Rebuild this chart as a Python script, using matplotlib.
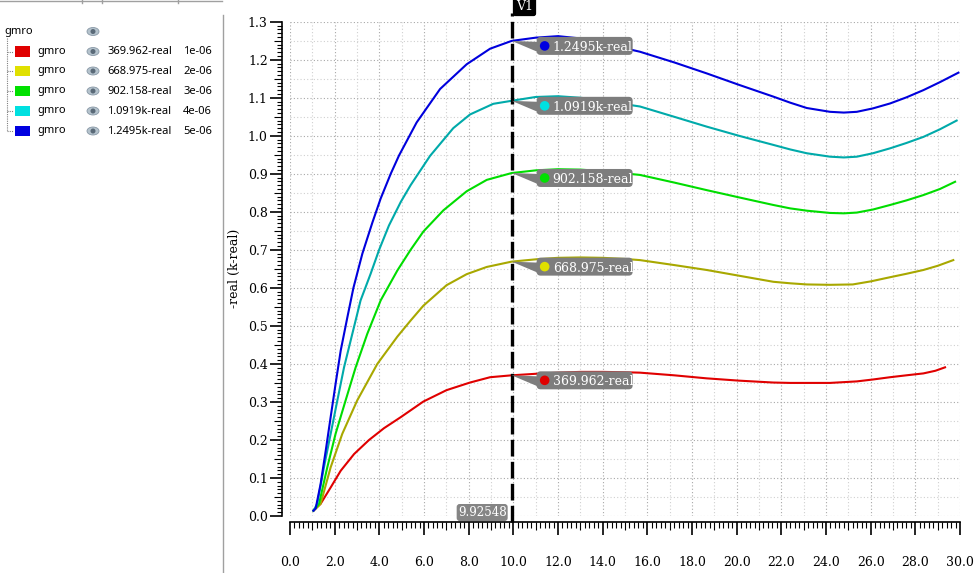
import matplotlib
matplotlib.use('Agg')
import matplotlib.pyplot as plt
import matplotlib.patches as mpatches
import matplotlib.transforms as mtransforms
import numpy as np
from matplotlib.ticker import MultipleLocator, FormatStrFormatter

W, H = 977, 573

# ---- data ----
names = ['369.962-real', '668.975-real', '902.158-real', '1.0919k-real', '1.2495k-real']
params = ['1e-06', '2e-06', '3e-06', '4e-06', '5e-06']
cursor_x = 9.92548
cursor_vals = [0.369962, 0.668975, 0.902158, 1.0919, 1.2495]

x_red = [1.05, 1.37, 1.82, 2.27, 2.87, 3.54, 4.21, 4.96, 5.97, 7.01, 8.06, 8.96, 9.925, 11, 12, 13, 14, 15,
         15.67, 17.2, 18.66, 20.1, 21.64, 22.4, 23.14, 24.18, 25.38, 26.1, 26.87, 27.6, 28.36, 28.9, 29.33]
y_red = [0.014, 0.032, 0.075, 0.119, 0.163, 0.200, 0.231, 0.260, 0.301, 0.331, 0.351, 0.365, 0.370, 0.374, 0.377,
         0.379, 0.379, 0.378, 0.377, 0.370, 0.362, 0.356, 0.351, 0.350, 0.350, 0.350, 0.354, 0.359, 0.365, 0.370,
         0.375, 0.382, 0.391]

x_yel = [1.05, 1.37, 1.82, 2.34, 3.01, 3.91, 4.81, 5.4, 5.97, 7.01, 7.91, 8.81, 9.925, 11, 12, 13, 14, 15,
         15.67, 17.2, 18.66, 20.1, 21.64, 22.4, 23.14, 24.18, 25.2, 26.0, 26.87, 27.6, 28.36, 29.0, 29.7]
y_yel = [0.014, 0.032, 0.128, 0.216, 0.304, 0.400, 0.472, 0.514, 0.553, 0.607, 0.636, 0.655, 0.669, 0.675,
         0.679, 0.680, 0.679, 0.676, 0.673, 0.660, 0.647, 0.632, 0.616, 0.612, 0.609, 0.608, 0.609, 0.617, 0.628,
         0.637, 0.647, 0.658, 0.673]

x_grn = [1.05, 1.3, 1.67, 2.04, 2.49, 2.94, 3.46, 4.06, 4.81, 5.4, 5.97, 6.87, 7.91, 8.81, 9.925, 11, 12, 13,
         14, 15, 15.67, 17.2, 18.66, 20.1, 21.64, 22.4, 23.14, 24.18, 24.8, 25.38, 26.1, 26.87, 27.6, 28.36,
         29.1, 29.78]
y_grn = [0.014, 0.032, 0.128, 0.216, 0.304, 0.391, 0.479, 0.567, 0.646, 0.700, 0.748, 0.804, 0.854, 0.884,
         0.902, 0.909, 0.912, 0.911, 0.907, 0.901, 0.897, 0.877, 0.857, 0.838, 0.818, 0.809, 0.803, 0.797, 0.796,
         0.798, 0.806, 0.818, 0.830, 0.844, 0.860, 0.879]

x_cyn = [1.05, 1.22, 1.52, 1.82, 2.12, 2.42, 2.79, 3.16, 3.61, 3.99, 4.43, 4.96, 5.4, 6.27, 7.31, 8.06, 9.1,
         9.925, 11, 12, 13, 14, 15, 15.67, 17.2, 18.66, 20.1, 21.64, 22.4, 23.14, 24.18, 24.8, 25.38, 26.1,
         26.87, 27.6, 28.36, 29.1, 29.85]
y_cyn = [0.014, 0.032, 0.128, 0.216, 0.304, 0.391, 0.479, 0.567, 0.637, 0.700, 0.764, 0.826, 0.870, 0.947,
         1.020, 1.056, 1.084, 1.092, 1.102, 1.104, 1.100, 1.093, 1.083, 1.077, 1.050, 1.024, 1.000, 0.976, 0.964,
         0.954, 0.945, 0.943, 0.945, 0.954, 0.967, 0.981, 0.997, 1.017, 1.040]

x_blu = [1.05, 1.15, 1.37, 1.60, 1.82, 2.04, 2.27, 2.57, 2.84, 3.24, 3.69, 4.06, 4.51, 4.88, 5.67, 6.72, 7.91,
         8.96, 9.925, 11, 12, 13, 14, 15, 15.67, 17.2, 18.66, 20.1, 21.64, 22.4, 23.14, 24.18, 24.8, 25.38,
         26.1, 26.87, 27.6, 28.36, 29.1, 29.93]
y_blu = [0.014, 0.020, 0.084, 0.172, 0.260, 0.347, 0.435, 0.523, 0.600, 0.690, 0.772, 0.835, 0.900, 0.948,
         1.035, 1.123, 1.188, 1.229, 1.2495, 1.258, 1.262, 1.256, 1.245, 1.230, 1.221, 1.193, 1.164, 1.134, 1.103,
         1.087, 1.073, 1.063, 1.061, 1.063, 1.072, 1.085, 1.101, 1.120, 1.141, 1.166]

series_x = [x_red, x_yel, x_grn, x_cyn, x_blu]
series_y = [y_red, y_yel, y_grn, y_cyn, y_blu]
line_colors = ['#e00000', '#a8a800', '#00dd00', '#00aaaa', '#0000dd']
key_colors = ['#e00000', '#e0e000', '#00e000', '#00e0e0', '#0000e0']

serif = 'DejaVu Serif'
sans = 'Noto Sans'

fig = plt.figure(figsize=(W / 100, H / 100), dpi=100)
fig.patch.set_facecolor('white')


def fx(px):
    return px / W


def fy(py):
    return 1 - py / H


# ---- left panel (legend tree) ----
fig.add_artist(plt.Line2D([0, fx(222)], [fy(0.5), fy(0.5)], color='#a0a0a0', lw=1))
for vx in [82, 102, 178]:
    fig.add_artist(plt.Line2D([fx(vx), fx(vx)], [fy(0), fy(3)], color='#a0a0a0', lw=1))
fig.add_artist(plt.Line2D([fx(222.5), fx(222.5)], [fy(15), fy(573)], color='#a0a0a0', lw=1))


def eye(cx, cy):
    fig.add_artist(mpatches.Ellipse((fx(cx), fy(cy)), 12 / W, 8 / H, transform=fig.transFigure,
                                    fc='#b4c2cc', ec='#8898a6', lw=0.6))
    fig.add_artist(mpatches.Ellipse((fx(cx), fy(cy)), 5 / W, 5 / H, transform=fig.transFigure,
                                    fc='#5a6a78', ec='none'))


fig.text(fx(4), fy(31.5), 'gmro', family=sans, fontsize=8, va='center', ha='left')
eye(93, 31.5)
row_y = [51.5, 71, 91, 111, 131]
fig.add_artist(plt.Line2D([fx(6.5), fx(6.5)], [fy(38), fy(row_y[-1])], color='#808080', lw=0.8, ls=(0, (1, 1))))
for i in range(5):
    ry = row_y[i]
    fig.add_artist(plt.Line2D([fx(6.5), fx(13)], [fy(ry), fy(ry)], color='#808080', lw=0.8, ls=(0, (1, 1))))
    fig.add_artist(mpatches.Rectangle((fx(15), fy(ry + 5)), 15 / W, 10 / H, transform=fig.transFigure,
                                      fc=key_colors[i], ec='none'))
    fig.text(fx(37), fy(ry), 'gmro', family=sans, fontsize=8, va='center', ha='left')
    eye(93, ry)
    fig.text(fx(107), fy(ry), names[i], family=sans, fontsize=8, va='center', ha='left')
    fig.text(fx(183), fy(ry), params[i], family=sans, fontsize=8, va='center', ha='left')

# ---- plot area ----
y0_px, y1_px = 516, 21.7
ax = fig.add_axes([fx(290), fy(y0_px), (960 - 290) / W, (y0_px - y1_px) / H])
ax.set_xlim(0, 30)
ax.set_ylim(0, 1.3)
ax.set_facecolor('none')

for s in ['top', 'right']:
    ax.spines[s].set_visible(False)
ax.spines['left'].set_position(('outward', 6))
ax.spines['bottom'].set_position(('outward', 4.5))
for s in ['left', 'bottom']:
    ax.spines[s].set_linewidth(1.2)

# grid: light at 1 / 0.05, darker at 2 / 0.1
for gx in np.arange(1, 30, 2):
    ax.axvline(gx, color='#d0d0d0', lw=0.8, ls=(0, (1, 2)), zorder=0)
for gx in np.arange(0, 30.1, 2):
    ax.axvline(gx, color='#a8a8a8', lw=0.8, ls=(0, (1, 2)), zorder=0)
for gy in np.arange(0.05, 1.3, 0.1):
    ax.axhline(gy, color='#d0d0d0', lw=0.8, ls=(0, (1, 2)), zorder=0)
for gy in np.arange(0, 1.31, 0.1):
    ax.axhline(gy, color='#a8a8a8', lw=0.8, ls=(0, (1, 2)), zorder=0)

ax.xaxis.set_major_locator(MultipleLocator(2))
ax.xaxis.set_minor_locator(MultipleLocator(0.2))
ax.yaxis.set_major_locator(MultipleLocator(0.1))
ax.yaxis.set_minor_locator(MultipleLocator(0.01))
ax.xaxis.set_major_formatter(FormatStrFormatter('%.1f'))
ax.yaxis.set_major_formatter(FormatStrFormatter('%.1f'))
ax.tick_params(axis='x', which='major', length=9, width=1.2, pad=15, labelsize=9)
ax.tick_params(axis='x', which='minor', length=4, width=0.8)
ax.tick_params(axis='y', which='major', length=9, width=1.2, pad=1, labelsize=9)
ax.tick_params(axis='y', which='minor', length=3.5, width=0.8)
for lab in ax.get_xticklabels() + ax.get_yticklabels():
    lab.set_family(serif)

# medium ticks at odd x and at every 0.05 in y
xlocs = ax.xaxis.get_minorticklocs()
for t, loc in zip(ax.xaxis.get_minor_ticks(len(xlocs)), xlocs):
    if abs(loc - round(loc)) < 1e-6:
        t.tick1line.set_markersize(6)
ylocs = ax.yaxis.get_minorticklocs()
for t, loc in zip(ax.yaxis.get_minor_ticks(len(ylocs)), ylocs):
    if abs(loc * 20 - round(loc * 20)) < 1e-6:
        t.tick1line.set_markersize(6)

ax.set_ylabel('-real (k-real)', family=serif, fontsize=9, labelpad=5)

for xs, ys, c in zip(series_x, series_y, line_colors):
    ax.plot(xs, ys, color=c, lw=1.5, zorder=3)

# cursor
ax.axvline(cursor_x, ymin=-0.012, ymax=(y0_px - 13) / (y0_px - y1_px), color='black', lw=2.4,
           ls=(0, (5, 1.6)), clip_on=False, zorder=5)
fig.text(fx(524.5), fy(6.5), 'V1', family=serif, fontsize=9, color='white', ha='center', va='center',
         bbox=dict(boxstyle='round,pad=0.25,rounding_size=0.2', fc='black', ec='none'))


def px_trans(xd, yd):
    return mtransforms.Affine2D() + mtransforms.ScaledTranslation(xd, yd, ax.transData)


tb = px_trans(cursor_x, 0)
ax.add_patch(mpatches.FancyBboxPatch((-55, -5), 51, 17, boxstyle='round,pad=0,rounding_size=3',
                                     transform=tb, fc='#858585', ec='none', clip_on=False, zorder=6))
ax.text(-29.5, 3.5, '9.92548', transform=tb, family=serif, fontsize=8.6, color='white',
        ha='center', va='center', clip_on=False, zorder=7)

for v, nm, c in zip(cursor_vals, names, key_colors):
    tr = px_trans(cursor_x, v)
    ax.add_patch(mpatches.Polygon([(0, 0), (26, -1), (26, -11)], closed=True, transform=tr,
                                  fc='#7d7d7d', ec='none', clip_on=False, zorder=6))
    ax.add_patch(mpatches.FancyBboxPatch((25, -14), 96, 18, boxstyle='round,pad=0,rounding_size=4',
                                         transform=tr, fc='#7d7d7d', ec='none', clip_on=False, zorder=6))
    ax.add_patch(mpatches.Circle((33, -5), 4.8, transform=tr, fc=c, ec='none', clip_on=False, zorder=7))
    ax.text(41, -5, nm, transform=tr, family=serif, fontsize=9, color='white', ha='left',
            va='center_baseline', clip_on=False, zorder=7)

fig.savefig('out.png', dpi=100)
